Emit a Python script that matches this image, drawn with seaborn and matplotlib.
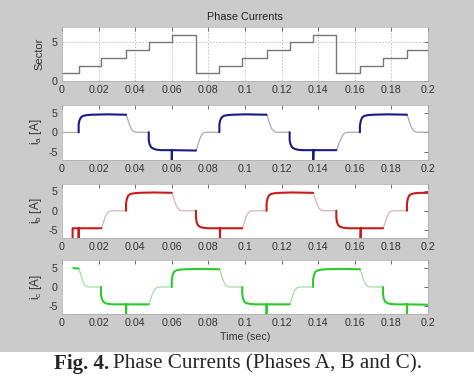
import matplotlib
matplotlib.use('Agg')
import matplotlib.pyplot as plt
import seaborn as sns
from matplotlib.patches import Rectangle

# sector steps: start time of each step and its sector number
sector_t = [0.0, 0.0091, 0.0213, 0.0350, 0.0474, 0.0600, 0.0732, 0.0860, 0.0985,
            0.1118, 0.1244, 0.1372, 0.1499, 0.1628, 0.1754, 0.1885, 0.2000]
sector_v = [1, 2, 3, 4, 5, 6, 1, 2, 3, 4, 5, 6, 1, 2, 3, 4, 4]

# phase currents as segments: (mode, times, amps)
ia_segments = [
    ('free', [0.0, 0.0091], [0, 0]),
    ('drive', [0.0091, 0.0091, 0.0095, 0.0103, 0.0115, 0.0135, 0.0160, 0.0250, 0.0350],
     [0, 2.0, 3.0, 3.8, 4.2, 4.4, 4.5, 4.6, 4.5]),
    ('free', [0.0350, 0.0356, 0.0364, 0.0372, 0.0382, 0.0395, 0.0410, 0.0474],
     [4.5, 3.8, 2.6, 1.5, 0.6, 0.1, 0.0, 0.0]),
    ('drive', [0.0474, 0.0474, 0.0478, 0.0486, 0.0498, 0.0518, 0.0545, 0.0600, 0.0600, 0.0601, 0.0732],
     [0, -2.0, -3.0, -3.8, -4.2, -4.5, -4.6, -4.6, -7.5, -4.6, -4.7]),
    ('free', [0.0732, 0.0738, 0.0746, 0.0754, 0.0764, 0.0777, 0.0792, 0.0860],
     [-4.7, -3.9, -2.7, -1.6, -0.6, -0.1, 0.0, 0.0]),
    ('drive', [0.0860, 0.0860, 0.0864, 0.0872, 0.0884, 0.0904, 0.0930, 0.1000, 0.1118],
     [0, 2.0, 3.0, 3.8, 4.2, 4.4, 4.5, 4.6, 4.5]),
    ('free', [0.1118, 0.1124, 0.1132, 0.1140, 0.1150, 0.1163, 0.1178, 0.1244],
     [4.5, 3.8, 2.6, 1.5, 0.6, 0.1, 0.0, 0.0]),
    ('drive', [0.1244, 0.1244, 0.1248, 0.1256, 0.1268, 0.1288, 0.1315, 0.1373, 0.1373, 0.1374, 0.1499],
     [0, -2.0, -3.0, -3.8, -4.2, -4.5, -4.6, -4.6, -7.5, -4.6, -4.6]),
    ('free', [0.1499, 0.1506, 0.1515, 0.1525, 0.1536, 0.1550, 0.1568, 0.1628],
     [-4.6, -3.9, -2.7, -1.6, -0.6, -0.1, 0.0, 0.0]),
    ('drive', [0.1628, 0.1628, 0.1632, 0.1640, 0.1652, 0.1672, 0.1698, 0.1780, 0.1885],
     [0, 1.6, 2.8, 3.8, 4.2, 4.4, 4.5, 4.6, 4.5]),
    ('free', [0.1885, 0.1891, 0.1899, 0.1907, 0.1917, 0.1930, 0.1945, 0.2000],
     [4.5, 3.8, 2.6, 1.5, 0.6, 0.1, 0.0, 0.0]),
]

ib_segments = [
    ('drive', [0.0058, 0.0058, 0.0091, 0.0091, 0.0092, 0.0150, 0.0215],
     [-7.5, -4.5, -4.5, -7.5, -4.5, -4.5, -4.5]),
    ('free', [0.0215, 0.0221, 0.0229, 0.0237, 0.0247, 0.0260, 0.0275, 0.0350],
     [-4.5, -3.8, -2.6, -1.5, -0.6, -0.1, 0.0, 0.0]),
    ('drive', [0.0350, 0.0350, 0.0354, 0.0362, 0.0374, 0.0394, 0.0420, 0.0500, 0.0600],
     [0, 1.8, 3.0, 3.9, 4.3, 4.5, 4.6, 4.7, 4.6]),
    ('free', [0.0600, 0.0606, 0.0614, 0.0622, 0.0632, 0.0645, 0.0660, 0.0732],
     [4.6, 3.9, 2.7, 1.6, 0.6, 0.1, 0.0, 0.0]),
    ('drive', [0.0732, 0.0732, 0.0736, 0.0744, 0.0756, 0.0776, 0.0800, 0.0863, 0.0863, 0.0864, 0.0985],
     [0, -1.8, -3.0, -3.8, -4.2, -4.4, -4.5, -4.5, -7.5, -4.5, -4.5]),
    ('free', [0.0985, 0.0991, 0.0999, 0.1007, 0.1017, 0.1030, 0.1045, 0.1118],
     [-4.5, -3.8, -2.6, -1.5, -0.6, -0.1, 0.0, 0.0]),
    ('drive', [0.1118, 0.1118, 0.1122, 0.1130, 0.1142, 0.1162, 0.1188, 0.1260, 0.1372],
     [0, 1.8, 3.0, 3.9, 4.3, 4.5, 4.6, 4.7, 4.6]),
    ('free', [0.1372, 0.1378, 0.1386, 0.1394, 0.1404, 0.1417, 0.1432, 0.1499],
     [4.6, 3.9, 2.7, 1.6, 0.6, 0.1, 0.0, 0.0]),
    ('drive', [0.1499, 0.1499, 0.1503, 0.1511, 0.1523, 0.1543, 0.1567, 0.1632, 0.1632, 0.1633, 0.1754],
     [0, -1.8, -3.0, -3.8, -4.2, -4.4, -4.5, -4.5, -7.5, -4.5, -4.5]),
    ('free', [0.1754, 0.1760, 0.1768, 0.1776, 0.1786, 0.1799, 0.1814, 0.1885],
     [-4.5, -3.8, -2.6, -1.5, -0.6, -0.1, 0.0, 0.0]),
    ('drive', [0.1885, 0.1885, 0.1889, 0.1897, 0.1909, 0.1929, 0.1955, 0.2000],
     [0, 1.8, 3.0, 3.9, 4.3, 4.5, 4.6, 4.6]),
]

ic_segments = [
    ('drive', [0.0062, 0.0080, 0.0091], [4.9, 4.8, 4.8]),
    ('free', [0.0091, 0.0097, 0.0105, 0.0113, 0.0123, 0.0136, 0.0151, 0.0213],
     [4.8, 4.0, 2.8, 1.6, 0.6, 0.1, 0.0, 0.0]),
    ('drive', [0.0213, 0.0213, 0.0217, 0.0225, 0.0237, 0.0257, 0.0283, 0.0350, 0.0350, 0.0351, 0.0474],
     [0, -1.8, -3.0, -3.8, -4.2, -4.4, -4.5, -4.5, -7.5, -4.5, -4.5]),
    ('free', [0.0474, 0.0480, 0.0488, 0.0496, 0.0506, 0.0519, 0.0534, 0.0600],
     [-4.5, -3.8, -2.6, -1.5, -0.6, -0.1, 0.0, 0.0]),
    ('drive', [0.0600, 0.0600, 0.0604, 0.0612, 0.0624, 0.0644, 0.0670, 0.0760, 0.0860],
     [0, 1.8, 3.0, 3.9, 4.3, 4.5, 4.6, 4.7, 4.6]),
    ('free', [0.0860, 0.0866, 0.0874, 0.0882, 0.0892, 0.0905, 0.0920, 0.0985],
     [4.6, 3.9, 2.7, 1.6, 0.6, 0.1, 0.0, 0.0]),
    ('drive', [0.0985, 0.0985, 0.0989, 0.0997, 0.1009, 0.1029, 0.1055, 0.1118, 0.1118, 0.1119, 0.1244],
     [0, -1.8, -3.0, -3.8, -4.2, -4.4, -4.5, -4.5, -7.5, -4.5, -4.5]),
    ('free', [0.1244, 0.1250, 0.1258, 0.1266, 0.1276, 0.1289, 0.1304, 0.1372],
     [-4.5, -3.8, -2.6, -1.5, -0.6, -0.1, 0.0, 0.0]),
    ('drive', [0.1372, 0.1372, 0.1376, 0.1384, 0.1396, 0.1416, 0.1442, 0.1530, 0.1628],
     [0, 1.8, 3.0, 3.9, 4.3, 4.5, 4.6, 4.7, 4.6]),
    ('free', [0.1628, 0.1634, 0.1642, 0.1650, 0.1660, 0.1673, 0.1688, 0.1754],
     [4.6, 3.9, 2.7, 1.6, 0.6, 0.1, 0.0, 0.0]),
    ('drive', [0.1754, 0.1754, 0.1758, 0.1766, 0.1778, 0.1798, 0.1824, 0.1885, 0.1885, 0.1886, 0.2000],
     [0, -1.8, -3.0, -3.8, -4.2, -4.4, -4.5, -4.5, -7.5, -4.5, -4.6]),
]

x_ticks = [0, 0.02, 0.04, 0.06, 0.08, 0.1, 0.12, 0.14, 0.16, 0.18, 0.2]
x_ticklabels = ['0', '0.02', '0.04', '0.06', '0.08', '0.1', '0.12', '0.14', '0.16', '0.18', '0.2']

sns.set_theme(style='white')
plt.rcParams['font.family'] = ['Liberation Sans', 'DejaVu Sans']
plt.rcParams['axes.unicode_minus'] = False

fig = plt.figure(figsize=(4.74, 3.78), dpi=100, facecolor='white')
fig.patches.append(Rectangle((0, 1 - 352 / 378), 1, 352 / 378, transform=fig.transFigure,
                             facecolor='#cbcbcb', edgecolor='none', zorder=-10))

H = 378.0
def make_ax(top, bottom):
    return fig.add_axes([62 / 474, 1 - bottom / H, 366 / 474, (bottom - top) / H])

ax1 = make_ax(27, 81)
ax2 = make_ax(105, 159.5)
ax3 = make_ax(183.5, 238)
ax4 = make_ax(260, 314)

tick_color = '#333333'
for ax in [ax1, ax2, ax3, ax4]:
    ax.set_facecolor('white')
    ax.set_xlim(0, 0.2)
    ax.set_xticks(x_ticks)
    ax.set_xticklabels(x_ticklabels)
    ax.tick_params(direction='in', length=3, width=0.6, color='#555555', top=True, right=True,
                   labelsize=7.7, labelcolor=tick_color, pad=3)
    for s in ax.spines.values():
        s.set_color('#aaaaaa')
        s.set_linewidth(0.5)

# sector plot
sns.lineplot(x=sector_t, y=sector_v, ax=ax1, color='#777777', lw=1.0,
             drawstyle='steps-post', estimator=None, sort=False)
ax1.set_ylim(0, 7)
ax1.set_yticks([0, 5])
ax1.grid(True, ls=(0, (2, 2)), color='#bbbbbb', lw=0.6)
ax1.set_ylabel('Sector', fontsize=8, color=tick_color)
ax1.set_title('Phase Currents', fontsize=7.8, color='#222222', pad=5)

phases = [
    (ax2, ia_segments, '#1a1a8a', '#a9a9b6', r'$\mathregular{i_a}$ [A]'),
    (ax3, ib_segments, '#cc1a1a', '#d9b5b5', r'$\mathregular{i_b}$ [A]'),
    (ax4, ic_segments, '#2ccb2c', '#a6dca6', r'$\mathregular{i_c}$ [A]'),
]
for ax, segs, c_drive, c_free, lab in phases:
    for mode, t, i in segs:
        if mode == 'drive':
            sns.lineplot(x=t, y=i, ax=ax, color=c_drive, lw=1.5, estimator=None, sort=False, zorder=3)
        else:
            sns.lineplot(x=t, y=i, ax=ax, color=c_free, lw=0.9, estimator=None, sort=False, zorder=2)
    ax.set_ylim(-7, 7)
    ax.set_yticks([-5, 0, 5])
    ax.set_yticklabels(['-5', '0', '5'])
    ax.set_ylabel(lab, fontsize=8.5, color=tick_color)

for ax in [ax1, ax2, ax3, ax4]:
    ax.yaxis.set_label_coords(-0.048, 0.5)
    ax.set_xlabel('')

ax4.set_xlabel('Time (sec)', fontsize=7.7, color=tick_color, labelpad=3)

# caption
t1 = fig.text(54 / 474, 1 - 364 / H, 'Fig. 4.', fontsize=15.2, fontweight='bold',
              family='Liberation Serif', va='center', ha='left')
fig.canvas.draw()
bb = t1.get_window_extent(renderer=fig.canvas.get_renderer())
fig.text((bb.x1 + 4) / 474, 1 - 364 / H, 'Phase Currents (Phases A, B and C).', fontsize=15.2,
         family='Liberation Serif', va='center', ha='left')

fig.savefig('out.png', dpi=100, facecolor='white')
